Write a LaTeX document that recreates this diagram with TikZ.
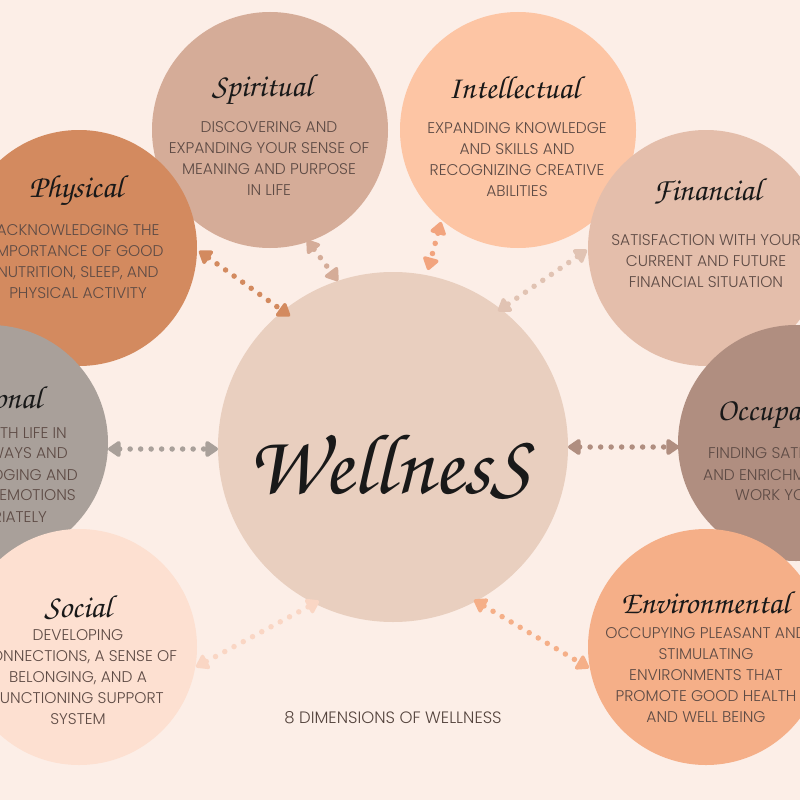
\documentclass[tikz,border=0pt]{standalone}
\usepackage{fontspec}
\setmainfont{Poppins}[UprightFont=* Light]
\newfontfamily\titlefont{TeX Gyre Chorus}
\usetikzlibrary{arrows.meta}
\definecolor{bg}{HTML}{FCEEE7}
\definecolor{cenc}{HTML}{E9CFBF}
\definecolor{spic}{HTML}{D5AC98}
\definecolor{intc}{HTML}{FDC5A4}
\definecolor{phyc}{HTML}{D38A5F}
\definecolor{finc}{HTML}{E4BEAB}
\definecolor{emoc}{HTML}{A9A09A}
\definecolor{occc}{HTML}{B08E80}
\definecolor{socc}{HTML}{FDE0D1}
\definecolor{envc}{HTML}{F5AF88}
\definecolor{intarr}{HTML}{F2A47E}
\definecolor{finarr}{HTML}{E1C3B3}
\definecolor{socarr}{HTML}{FAD6C4}
\definecolor{txt}{HTML}{5E4B45}
\tikzset{
  disc/.style={circle, minimum size=236pt, inner sep=0pt, draw=none},
  body/.style={font=\fontsize{15.5}{21}\selectfont, text=txt, align=center, inner sep=0pt},
  bodyline/.style={font=\fontsize{15.5}{21}\selectfont, text=txt, inner sep=0pt},
  ttl/.style={font=\titlefont\fontsize{32}{32}\selectfont, text=black!90, inner sep=0pt, anchor=base},
  conn/.style={line width=5.5pt, line cap=round, dash pattern=on 0pt off 10.5pt,
    {Triangle[length=14pt,width=18pt,round]}-{Triangle[length=14pt,width=18pt,round]}}
}
\begin{document}
\begin{tikzpicture}[x=1pt,y=-1pt]
\useasboundingbox (0,0) rectangle (800,800);
\fill[bg] (0,0) rectangle (800,800);
\begin{scope}
\clip (0,0) rectangle (800,800);
% circles
\node[disc, minimum size=350pt, fill=cenc] (cen) at (393,447) {};
\node[disc, fill=spic] (spi) at (270,130) {};
\node[disc, fill=intc] (int) at (518,130) {};
\node[disc, fill=phyc] (phy) at (79,248) {};
\node[disc, fill=finc] (fin) at (706,248) {};
\node[disc, fill=emoc] (emo) at (-10,443) {};
\node[disc, fill=occc] (occ) at (796,443) {};
\node[disc, fill=socc] (soc) at (79,647) {};
\node[disc, fill=envc] (env) at (706,647) {};
% connector ends
\coordinate (phyA) at (199,251); \coordinate (phyB) at (290,316);
\coordinate (spiA) at (307,240); \coordinate (spiB) at (338,281);
\coordinate (intA) at (441,222); \coordinate (intB) at (428,270);
\coordinate (finA) at (587,250); \coordinate (finB) at (498,311);
\coordinate (emoA) at (108,449); \coordinate (emoB) at (218,449);
\coordinate (occA) at (568,447); \coordinate (occB) at (679,447);
\coordinate (socA) at (196,667); \coordinate (socB) at (319,601);
\coordinate (envA) at (474,600); \coordinate (envB) at (589,668);
\draw[conn, phyc] (phyA) -- (phyB);
\draw[conn, spic] (spiA) -- (spiB);
\draw[conn, intarr] (intA) -- (intB);
\draw[conn, finarr] (finA) -- (finB);
\draw[conn, emoc] (emoA) -- (emoB);
\draw[conn, occc] (occA) -- (occB);
\draw[conn, socarr] (socA) -- (socB);
\draw[conn, envc] (envA) -- (envB);
% titles
\node[ttl] (tspi) at (262,96) {Spiritual};
\node[ttl] (tint) at (514,98) {Intellectual};
\node[ttl] (tphy) at (76,197) {Physical};
\node[ttl] (tfin) at (707,200) {Financial};
\node[ttl, anchor=base east] (temo) at (42,408) {Emotional};
\node[ttl, anchor=base west] (tocc) at (717,420) {Occupational};
\node[ttl] (tsoc) at (78,617) {Social};
\node[ttl] (tenv) at (705,613) {Environmental};
\node[ttl, font=\titlefont\fontsize{86}{86}\selectfont] (twel) at (389,493) {WellnesS};
% bodies
\node[body, anchor=north] (bspi) at (269,121) {DISCOVERING AND\\EXPANDING YOUR SENSE OF\\MEANING AND PURPOSE\\IN LIFE};
\node[body, anchor=north] (bint) at (517,122) {EXPANDING KNOWLEDGE\\AND SKILLS AND\\RECOGNIZING CREATIVE\\ABILITIES};
\node[body, anchor=north] (bphy) at (78,224) {ACKNOWLEDGING THE\\IMPORTANCE OF GOOD\\NUTRITION, SLEEP, AND\\PHYSICAL ACTIVITY};
\node[body, anchor=north] (bfin) at (706,234) {SATISFACTION WITH YOUR\\CURRENT AND FUTURE\\FINANCIAL SITUATION};
\node[body, anchor=north] (bsoc) at (78,629) {DEVELOPING\\CONNECTIONS, A SENSE OF\\BELONGING, AND A\\FUNCTIONING SUPPORT\\SYSTEM};
\node[body, anchor=north] (benv) at (706,627) {OCCUPYING PLEASANT AND\\STIMULATING\\ENVIRONMENTS THAT\\PROMOTE GOOD HEALTH\\AND WELL BEING};
\node[bodyline, anchor=east] (be1) at (67,433) {COPING WITH LIFE IN};
\node[bodyline, anchor=east] (be2) at (68,453) {HEALTHY WAYS AND};
\node[bodyline, anchor=east] (be3) at (78,475) {ACKNOWLEDGING AND};
\node[bodyline, anchor=east] (be4) at (76,495) {EXPRESSING EMOTIONS};
\node[bodyline, anchor=east] (be5) at (47,517) {APPROPRIATELY};
\node[bodyline, anchor=west] (bo1) at (708,453) {FINDING SATISFACTION};
\node[bodyline, anchor=west] (bo2) at (703,475) {AND ENRICHMENT IN THE};
\node[bodyline, anchor=west] (bo3) at (735,495) {WORK YOU DO};
\node[bodyline, font=\fontsize{16.5}{18}\selectfont, text=txt!90!black] (cap) at (393,718) {8 DIMENSIONS OF WELLNESS};
\end{scope}
\end{tikzpicture}
\end{document}
